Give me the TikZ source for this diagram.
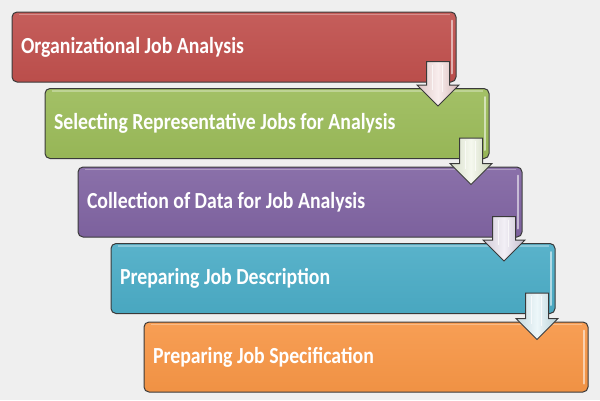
\documentclass[tikz,border=0pt]{standalone}
\usepackage{fontspec}
\setmainfont{Carlito}[FakeStretch=0.86]
\usetikzlibrary{calc}
\definecolor{bg}{HTML}{EFEFEF}
\definecolor{cRed}{HTML}{C0504D}
\definecolor{cGreen}{HTML}{9BBB59}
\definecolor{cPurple}{HTML}{8064A2}
\definecolor{cTeal}{HTML}{4BACC6}
\definecolor{cOrange}{HTML}{F79646}
\definecolor{edge}{HTML}{3A3A3A}
\newcommand\myboxfont{\fontsize{23}{25}\selectfont\bfseries}
\newcommand\boxtext[1]{\makebox[426pt][l]{#1}}
\begin{document}
\begin{tikzpicture}[x=1pt,y=-1pt,
  box/.style={draw=edge, line width=1pt, rounded corners=5pt,
    minimum width=444pt, minimum height=70pt, inner xsep=9pt,
    text=white, font=\myboxfont},
  shine/.style={white, line width=2pt, opacity=0.55, line cap=round},
  flowarrow/.style={draw=edge, line width=1pt, line join=miter},
  strip/.style={white, line width=1.6pt, opacity=0.7}]
\fill[bg] (0,0) rectangle (600,400);
\useasboundingbox (0,0) rectangle (600,400);
\node[box, top color=cRed!92!white, bottom color=cRed!97!black] (b1) at (234,47) {\boxtext{Organizational Job Analysis}};
\node[box, top color=cGreen!92!white, bottom color=cGreen!97!black] (b2) at (267,123.5) {\boxtext{Selecting Representative Jobs for Analysis}};
\node[box, top color=cPurple!92!white, bottom color=cPurple!97!black] (b3) at (300,202) {\boxtext{Collection of Data for Job Analysis}};
\node[box, top color=cTeal!92!white, bottom color=cTeal!97!black] (b4) at (333,278.5) {\boxtext{Preparing Job Description}};
\node[box, top color=cOrange!92!white, bottom color=cOrange!97!black] (b5) at (366,357) {\boxtext{Preparing Job Specification}};
\foreach \i in {1,...,5}{
  \draw[shine] ($(b\i.north east)+(-5,9)$) -- ($(b\i.south east)+(-5,-9)$);
  \draw[white, opacity=0.3, line width=1.2pt] ($(b\i.north west)+(7,3)$) -- ($(b\i.north east)+(-7,3)$);
}
\foreach \i/\j/\c in {1/2/cRed,2/3/cGreen,3/4/cPurple,4/5/cTeal}{
  \draw[flowarrow, left color=\c!22!white!92!black, right color=\c!30!white!90!black, middle color=\c!10!white]
    let \p1=(b\i.south east), \p2=(b\j.north) in
    (\x1-30pt,\y1+21pt) -- (\x1-7pt,\y1+21pt) -- (\x1-7pt,\y2+3pt) -- (\x1+2.5pt,\y2+3pt)
    -- (\x1-18.5pt,\y2-18pt) -- (\x1-39.5pt,\y2+3pt) -- (\x1-30pt,\y2+3pt) -- cycle;
  \draw[strip] let \p1=(b\i.south east), \p2=(b\j.north) in
    (\x1-24pt,\y1+18pt) -- (\x1-24pt,\y2-2pt);
  \draw[strip] let \p1=(b\i.south east), \p2=(b\j.north) in
    (\x1-14pt,\y1+18pt) -- (\x1-14pt,\y2-4pt);
}
\end{tikzpicture}
\end{document}
